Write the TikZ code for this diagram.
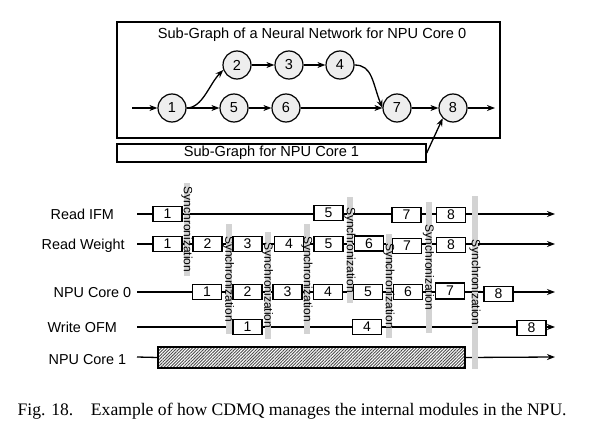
\documentclass[tikz,border=0pt]{standalone}
\usepackage{fontspec}
\setmainfont{Liberation Sans}
\newfontfamily\capfont{Liberation Serif}
\usetikzlibrary{arrows.meta,patterns.meta}
\definecolor{syncgray}{RGB}{211,211,211}
\definecolor{opfill}{RGB}{238,238,238}
\tikzset{Op/.style={circle,draw,fill=opfill,line width=1.2pt,minimum size=28pt,inner sep=0pt,font=\fontsize{14.5}{14.5}\selectfont}}
\tikzset{Blk/.style={draw,fill=white,line width=1.3pt,minimum width=29pt,minimum height=15pt,inner sep=0pt,font=\fontsize{14}{14}\selectfont}}
\tikzset{Lbl/.style={anchor=base west,inner sep=0pt,font=\fontsize{14.4}{14.4}\selectfont}}
\tikzset{Bar/.style={fill=syncgray,minimum width=6pt,inner sep=0pt}}
\tikzset{SyncTxt/.style={rotate=-90,inner sep=0pt,font=\fontsize{12}{12}\selectfont}}

\begin{document}
\begin{tikzpicture}[x=1pt,y=-1pt,line width=1.3pt]
    \useasboundingbox (0,0) rectangle (594,441);
    % sub-graphs
    \node[draw,line width=1.6pt,minimum width=383pt,minimum height=116pt] (sub0) at (308.5,80) {};
    \node[font=\fontsize{14.6}{14.6}\selectfont] (title) at (312,35) {Sub-Graph of a Neural Network for NPU Core 0};
    \node[draw,line width=1.4pt,minimum width=309pt,minimum height=18pt,inner sep=0pt,font=\fontsize{14.6}{14.6}\selectfont] (sub1) at (271.5,153) {Sub-Graph for NPU Core 1};
    \node[Op] (n1) at (172,108) {1};
    \node[Op] (n2) at (237,65) {2};
    \node[Op] (n3) at (289,65) {3};
    \node[Op] (n4) at (340,65) {4};
    \node[Op] (n5) at (234,108) {5};
    \node[Op] (n6) at (286,108) {6};
    \node[Op] (n7) at (397,108) {7};
    \node[Op] (n8) at (453,108) {8};
    \coordinate (gin) at (132,108);
    \coordinate (gout) at (495,108);
    \begin{scope}[->,>={Stealth[length=8pt,width=6pt]},line width=1.3pt]
      \draw (gin) -- (n1);
      \draw (n1) -- (n5);
      \draw (n5) -- (n6);
      \draw (n6) -- (n7);
      \draw (n2) -- (n3);
      \draw (n3) -- (n4);
      \draw (n7) -- (n8);
      \draw (n8) -- (gout);
      \draw (n1.east) .. controls +(16,0) and +(-14,14) .. (n2.200);
      \draw (n4.east) .. controls +(18,0) and +(-10,-25) .. (n7.west);
      \draw (sub1.east) -- (n8.225);
    \end{scope}
    % timing rows
    \node[Lbl] (l1) at (50,219) {Read IFM};
    \node[Lbl] (l2) at (41,249) {Read Weight};
    \node[Lbl] (l3) at (53,297) {NPU Core 0};
    \node[Lbl] (l4) at (47,332) {Write OFM};
    \node[Lbl] (l5) at (48,364) {NPU Core 1};
    \coordinate (r1s) at (137,214); \coordinate (r1e) at (555,214);
    \coordinate (r2s) at (137,244); \coordinate (r2e) at (555,244);
    \coordinate (r3s) at (137,292); \coordinate (r3e) at (555,292);
    \coordinate (r4s) at (137,327); \coordinate (r4e) at (555,327);
    \coordinate (r5s) at (137,357); \coordinate (r5e) at (555,357);
    \node[draw,preaction={fill=white},pattern={Lines[angle=45,distance=2.2pt,line width=0.9pt]},pattern color=black!70,minimum width=307pt,minimum height=21pt,inner sep=0pt] (h1) at (311.5,357.5) {};
    \begin{scope}[->,>={Stealth[length=8pt,width=6pt]}]
      \draw (r1s) -- (r1e);
      \draw (r2s) -- (r2e);
      \draw (r3s) -- (r3e);
      \draw (r4s) -- (r4e);
      \draw (h1.east) -- (r5e);
    \end{scope}
    \draw (r5s) -- (h1.west);
    % synchronization bars
    \node[Bar,minimum height=93pt] (s1) at (187,229.5) {};
    \node[Bar,minimum height=110pt] (s2) at (228.5,279) {};
    \node[Bar,minimum height=107pt] (s3) at (267.5,285.5) {};
    \node[Bar,minimum height=110pt] (s4) at (307,279) {};
    \node[Bar,minimum height=106pt] (s5) at (350,250) {};
    \node[Bar,minimum height=104pt] (s6) at (389,286) {};
    \node[Bar,minimum height=131pt] (s7) at (428.5,267.5) {};
    \node[Bar,minimum height=173pt] (s8) at (475,282.5) {};
    % blocks
    \node[Blk] (i1) at (167.5,214) {1};
    \node[Blk] (i5) at (328.5,213) {5};
    \node[Blk] (i7) at (406.5,215) {7};
    \node[Blk] (i8) at (451,215) {8};
    \node[Blk] (w1) at (167.5,244) {1};
    \node[Blk] (w2) at (207.5,244) {2};
    \node[Blk] (w3) at (247.5,244) {3};
    \node[Blk] (w4) at (289,244) {4};
    \node[Blk] (w5) at (328.5,244) {5};
    \node[Blk] (w6) at (369,243.5) {6};
    \node[Blk] (w7) at (407,246) {7};
    \node[Blk] (w8) at (451,245) {8};
    \node[Blk] (c1) at (207,292) {1};
    \node[Blk] (c2) at (247.5,292) {2};
    \node[Blk] (c3) at (287.5,292) {3};
    \node[Blk] (c4) at (328,292) {4};
    \node[Blk] (c5) at (368,292) {5};
    \node[Blk] (c6) at (408,292) {6};
    \node[Blk,minimum height=16pt] (c7) at (450,291) {7};
    \node[Blk] (c8) at (498.5,294) {8};
    \node[Blk] (o1) at (247.5,327) {1};
    \node[Blk] (o4) at (367,327) {4};
    \node[Blk] (o8) at (531.5,328) {8};
    \foreach \s in {s1,s2,s3,s4,s5,s6,s7,s8}
      \node[SyncTxt] at (\s) {Synchronization};
    % caption
    \node[anchor=base west,inner sep=0pt,font=\capfont\fontsize{17.6}{17.6}\selectfont] (cap) at (17,415) {Fig. 18.\hspace{1em}Example of how CDMQ manages the internal modules in the NPU.};
\end{tikzpicture}
\end{document}
